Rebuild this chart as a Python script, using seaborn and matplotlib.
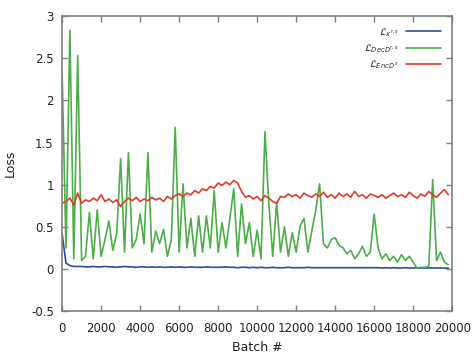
import numpy as np
import pandas as pd
import matplotlib
matplotlib.use('Agg')
import matplotlib.pyplot as plt
import seaborn as sns

# batch index, one sample every 200 batches
batches = list(range(0, 20000, 200))

loss_x = [0.42, 0.07, 0.04, 0.03, 0.03, 0.03, 0.025, 0.025, 0.03, 0.025,
          0.025, 0.03, 0.025, 0.025, 0.02, 0.025, 0.03, 0.025, 0.025, 0.02,
          0.025, 0.025, 0.02, 0.025, 0.02, 0.025, 0.02, 0.02, 0.025, 0.02,
          0.025, 0.02, 0.02, 0.025, 0.02, 0.02, 0.02, 0.025, 0.02, 0.02,
          0.02, 0.02, 0.025, 0.02, 0.02, 0.015, 0.02, 0.02, 0.015, 0.02,
          0.015, 0.02, 0.015, 0.015, 0.02, 0.015, 0.015, 0.015, 0.02, 0.015,
          0.015, 0.015, 0.015, 0.02, 0.015, 0.015, 0.015, 0.015, 0.015, 0.015,
          0.015, 0.015, 0.015, 0.015, 0.015, 0.015, 0.015, 0.015, 0.015, 0.015,
          0.015, 0.015, 0.012, 0.015, 0.012, 0.015, 0.012, 0.012, 0.015, 0.012,
          0.012, 0.012, 0.012, 0.012, 0.012, 0.012, 0.012, 0.012, 0.01, 0.01]

loss_dec = [2.35, 0.25, 2.83, 0.12, 2.53, 0.10, 0.15, 0.67, 0.12, 0.70,
            0.15, 0.35, 0.57, 0.22, 0.42, 1.31, 0.20, 1.38, 0.25, 0.35,
            0.65, 0.30, 1.38, 0.20, 0.45, 0.30, 0.47, 0.15, 0.35, 1.68,
            0.20, 1.01, 0.25, 0.60, 0.15, 0.63, 0.20, 0.63, 0.25, 0.93,
            0.20, 0.55, 0.25, 0.60, 0.95, 0.15, 0.77, 0.30, 0.55, 0.15,
            0.46, 0.12, 1.63, 0.77, 0.15, 0.79, 0.20, 0.50, 0.15, 0.43,
            0.20, 0.51, 0.60, 0.20, 0.45, 0.69, 1.01, 0.30, 0.25, 0.35,
            0.37, 0.28, 0.25, 0.18, 0.22, 0.12, 0.18, 0.27, 0.15, 0.20,
            0.65, 0.25, 0.12, 0.18, 0.10, 0.15, 0.08, 0.17, 0.10, 0.15,
            0.08, 0.01, 0.02, 0.02, 0.03, 1.06, 0.10, 0.20, 0.08, 0.05]

loss_enc = [0.78, 0.80, 0.84, 0.76, 0.90, 0.78, 0.82, 0.80, 0.84, 0.81,
            0.88, 0.80, 0.83, 0.79, 0.82, 0.74, 0.80, 0.84, 0.81, 0.85,
            0.80, 0.83, 0.81, 0.85, 0.82, 0.84, 0.80, 0.86, 0.83, 0.87,
            0.89, 0.86, 0.90, 0.88, 0.93, 0.90, 0.95, 0.93, 0.98, 0.96,
            1.02, 0.99, 1.03, 1.00, 1.05, 1.02, 0.92, 0.85, 0.87, 0.83,
            0.86, 0.81, 0.87, 0.84, 0.80, 0.78, 0.86, 0.85, 0.89, 0.86,
            0.88, 0.84, 0.90, 0.87, 0.85, 0.89, 0.86, 0.91, 0.85, 0.88,
            0.84, 0.90, 0.86, 0.89, 0.85, 0.92, 0.86, 0.88, 0.84, 0.89,
            0.87, 0.85, 0.88, 0.84, 0.87, 0.90, 0.86, 0.88, 0.85, 0.91,
            0.87, 0.84, 0.89, 0.86, 0.92, 0.88, 0.85, 0.90, 0.94, 0.88]

labels = [r'$\mathcal{L}_{x^{r,s}}$', r'$\mathcal{L}_{DecD^{r,s}}$', r'$\mathcal{L}_{EncD^{s}}$']
colors = ['#2a4d9e', '#4dae49', '#dd3b2a']

df = pd.concat([
    pd.DataFrame({'batch': batches, 'loss': vals, 'series': lab})
    for vals, lab in zip([loss_x, loss_dec, loss_enc], labels)
])

sns.set_style('white')
plt.rcParams['font.family'] = ['DejaVu Sans']

fig = plt.figure(figsize=(4.74, 3.56), dpi=100)
ax = fig.add_axes([0.131, 0.126, 0.823, 0.829])
sns.lineplot(data=df, x='batch', y='loss', hue='series', palette=colors,
             linewidth=1.2, ax=ax)

ax.set_xlim(0, 20000)
ax.set_ylim(-0.5, 3)
ax.set_xticks(range(0, 20001, 2000))
ax.set_yticks(np.arange(-0.5, 3.01, 0.5))
ax.set_yticklabels(['-0.5', '0', '0.5', '1', '1.5', '2', '2.5', '3'])
ax.set_xlabel('Batch #', fontsize=9, color='#222222', labelpad=4)
ax.set_ylabel('Loss', fontsize=9, color='#222222', labelpad=10)
ax.tick_params(direction='in', length=4, width=1, colors='#808080',
               labelcolor='#222222', labelsize=8.5, top=True, right=True,
               bottom=True, left=True)
ax.tick_params(axis='x', pad=8)
ax.tick_params(axis='y', pad=6)
for s in ax.spines.values():
    s.set_color('#808080')
    s.set_linewidth(1.2)

leg = ax.legend(loc='upper right', frameon=False, markerfirst=False,
                fontsize=7, handlelength=3.6, labelspacing=0.35,
                borderaxespad=0.3, bbox_to_anchor=(0.99, 0.99))
for t in leg.get_texts():
    t.set_ha('right')

fig.savefig('out.png', dpi=100)
